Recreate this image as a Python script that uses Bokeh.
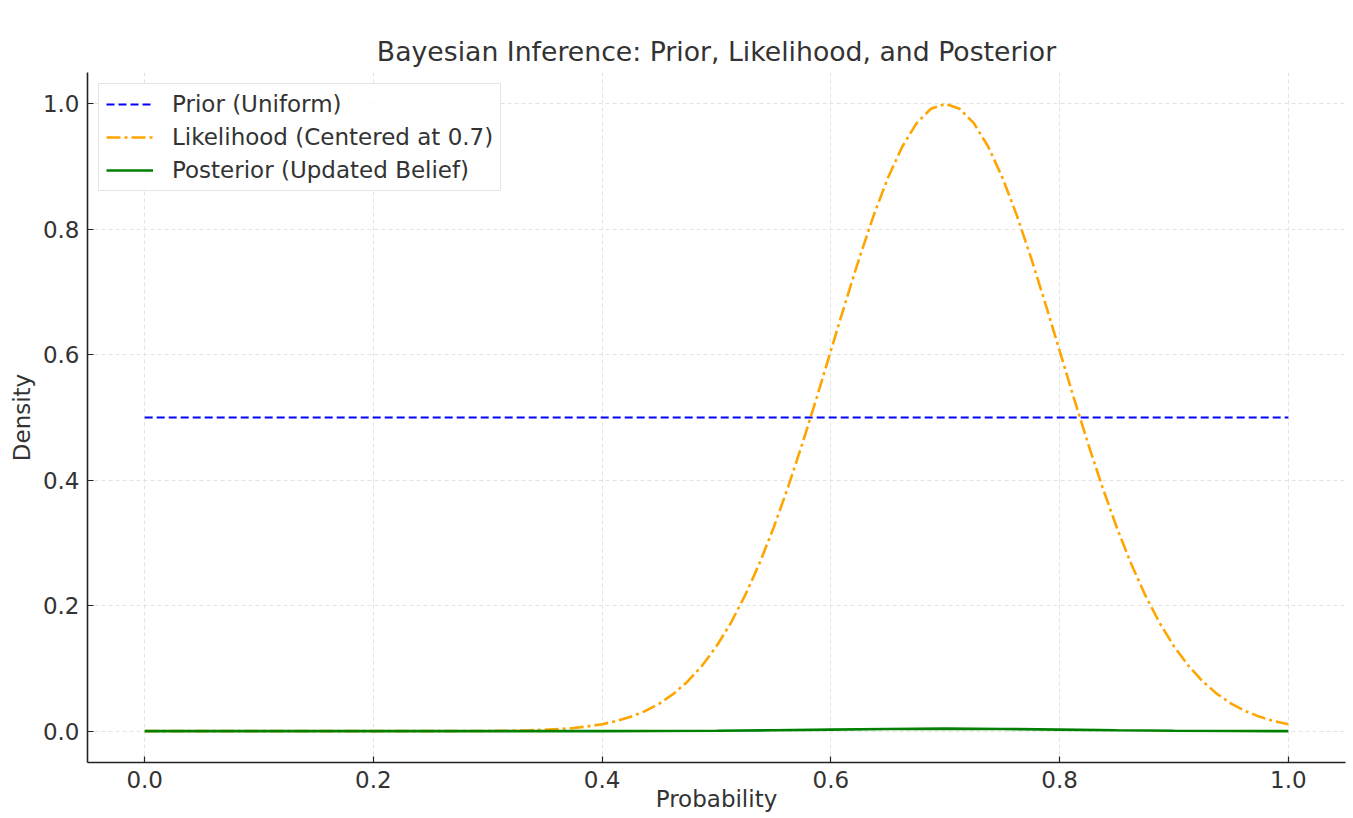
from bokeh.plotting import figure
from bokeh.models import Range1d, FixedTicker, PrintfTickFormatter, Legend, LegendItem
from bokeh.embed import file_html
from bokeh.resources import INLINE

# ---- data ----
prior_x = [0.0, 1.0]
prior_y = [0.5, 0.5]

like_x = [0.0, 0.05, 0.1, 0.15, 0.2, 0.25, 0.275,
          0.3, 0.3125, 0.325, 0.3375, 0.35, 0.3625, 0.375, 0.3875, 0.4, 0.4125,
          0.425, 0.4375, 0.45, 0.4625, 0.475, 0.4875, 0.5, 0.5125, 0.525, 0.5375,
          0.55, 0.5625, 0.575, 0.5875, 0.6, 0.6125, 0.625, 0.6375, 0.65, 0.6625,
          0.675, 0.6875, 0.7, 0.7125, 0.725, 0.7375, 0.75, 0.7625, 0.775, 0.7875,
          0.8, 0.8125, 0.825, 0.8375, 0.85, 0.8625, 0.875, 0.8875, 0.9, 0.9125,
          0.925, 0.9375, 0.95, 0.9625, 0.975, 0.9875, 1.0]
like_y = [0.0, 0.0, 0.0, 0.0, 0.0, 0.00004, 0.00012,
          0.0003, 0.0005, 0.0009, 0.0014, 0.0022, 0.0034, 0.0051, 0.0076, 0.0111, 0.0160,
          0.0228, 0.0319, 0.0439, 0.0596, 0.0796, 0.1046, 0.1353, 0.1724, 0.2163, 0.2671,
          0.3247, 0.3886, 0.4578, 0.5310, 0.6065, 0.6819, 0.7548, 0.8226, 0.8825, 0.9321,
          0.9692, 0.9922, 1.0, 0.9922, 0.9692, 0.9321, 0.8825, 0.8226, 0.7548, 0.6819,
          0.6065, 0.5310, 0.4578, 0.3886, 0.3247, 0.2671, 0.2163, 0.1724, 0.1353, 0.1046,
          0.0796, 0.0596, 0.0439, 0.0319, 0.0228, 0.0160, 0.0111]

post_x = [0.0, 0.05, 0.1, 0.15, 0.2, 0.25, 0.3, 0.35, 0.4, 0.45, 0.5,
          0.55, 0.6, 0.65, 0.7, 0.75, 0.8, 0.85, 0.9, 0.95, 1.0]
post_y = [0.0, 0.0, 0.0, 0.0, 0.0, 0.0, 0.000001, 0.000009, 0.000044, 0.000175, 0.00054,
          0.0013, 0.00242, 0.00352, 0.00399, 0.00352, 0.00242, 0.0013, 0.00054, 0.000175, 0.000044]

x_ticks = [0.0, 0.2, 0.4, 0.6, 0.8, 1.0]
y_ticks = [0.0, 0.2, 0.4, 0.6, 0.8, 1.0]

labels = ["Prior (Uniform)", "Likelihood (Centered at 0.7)", "Posterior (Updated Belief)"]
title_text = "Bayesian Inference: Prior, Likelihood, and Posterior"

FONT = "DejaVu Sans"
TXT = "#333333"

p = figure(width=1353, height=818, output_backend="svg", toolbar_location=None,
           x_range=Range1d(-0.05, 1.05), y_range=Range1d(-0.05, 1.05),
           min_border_left=87, min_border_right=8, min_border_top=72, min_border_bottom=56)

p.title.text = title_text
p.title.align = "center"
p.title.text_font = FONT
p.title.text_font_size = "26.7px"
p.title.text_font_style = "normal"
p.title.text_color = TXT
p.title.standoff = 11

p.outline_line_color = None
p.background_fill_color = "white"
p.border_fill_color = "white"

for ax, ticks in ((p.xaxis[0], x_ticks), (p.yaxis[0], y_ticks)):
    ax.ticker = FixedTicker(ticks=ticks)
    ax.formatter = PrintfTickFormatter(format="%.1f")
    ax.major_label_text_font = FONT
    ax.major_label_text_font_size = "23px"
    ax.major_label_text_color = TXT
    ax.axis_label_text_font = FONT
    ax.axis_label_text_font_size = "23px"
    ax.axis_label_text_font_style = "normal"
    ax.axis_label_text_color = TXT
    ax.axis_line_color = "#222222"
    ax.axis_line_width = 1.6
    ax.major_tick_line_color = "#222222"
    ax.major_tick_line_width = 1.2
    ax.major_tick_out = 0
    ax.major_tick_in = 6
    ax.minor_tick_line_color = None

p.xaxis.axis_label = "Probability"
p.yaxis.axis_label = "Density"
p.xaxis.major_label_standoff = 8
p.xaxis.axis_label_standoff = -5
p.yaxis.major_label_standoff = 8
p.yaxis.axis_label_standoff = 5

for g in (p.xgrid[0], p.ygrid[0]):
    g.grid_line_color = "#e3e3e3"
    g.grid_line_dash = "4 3"
    g.grid_line_width = 1
    g.ticker = FixedTicker(ticks=x_ticks)

r1 = p.line(prior_x, prior_y, line_color="#0000ff", line_width=2.2, line_dash="8 4")
r2 = p.line(like_x, like_y, line_color="#ffa500", line_width=2.6, line_dash="14 4 3 4")
r3 = p.line(post_x, post_y, line_color="#008000", line_width=2.6)

legend = Legend(items=[LegendItem(label=labels[0], renderers=[r1]),
                       LegendItem(label=labels[1], renderers=[r2]),
                       LegendItem(label=labels[2], renderers=[r3])],
                location="top_left")
legend.margin = 11
legend.padding = 7
legend.spacing = 7
legend.glyph_width = 47
legend.glyph_height = 24
legend.label_height = 24
legend.label_standoff = 19
legend.label_text_font = FONT
legend.label_text_font_size = "23px"
legend.label_text_color = TXT
legend.border_line_color = "#cccccc"
legend.border_line_width = 1
legend.background_fill_color = "white"
legend.background_fill_alpha = 0.85
p.add_layout(legend)

open("out.html", "w").write(file_html(p, INLINE))
